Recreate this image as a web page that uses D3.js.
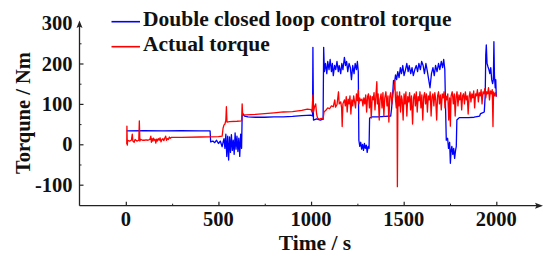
<!DOCTYPE html>
<html>
<head>
<meta charset="utf-8">
<script src="https://cdn.jsdelivr.net/npm/d3@7"></script>
<style>
html,body{margin:0;padding:0;background:#fff;}
svg{display:block;}
</style>
</head>
<body>
<svg id="chart" width="550" height="261"></svg>
<script>
// ---- data ----
const blueTime = [5,100,200,300,400,455,458,470,480,490,500,510,520,525,530,535,540,545,550,555,560,565,570,575,580,585,590,595,600,605,610,615,620,625,628,632,640,660,700,750,800,850,900,950,1000,1008,1010,1013,1030,1050,1065,1068,1072,1078,1085,1090,1097,1103,1110,1115,1120,1127,1133,1140,1147,1152,1160,1166,1172,1180,1186,1192,1198,1205,1212,1218,1225,1232,1238,1245,1250,1255,1258,1263,1268,1273,1278,1283,1288,1293,1298,1303,1308,1313,1316,1330,1360,1400,1430,1435,1440,1445,1450,1456,1462,1468,1475,1482,1488,1495,1502,1510,1517,1524,1530,1538,1545,1552,1560,1568,1575,1582,1590,1597,1605,1612,1620,1628,1635,1642,1650,1658,1665,1672,1680,1688,1695,1703,1710,1716,1722,1726,1730,1737,1742,1748,1752,1756,1760,1765,1770,1775,1780,1784,1787,1800,1850,1880,1910,1915,1925,1935,1940,1943,1946,1950,1955,1960,1965,1970,1975,1980,1984,1987,1990,1994,1997,2000];
const blueTorque = [33,34,33,34,33,33,6,8,4,10,2,8,-6,5,14,-10,25,-30,20,-39,18,-20,24,-15,10,-25,28,-12,20,-18,15,-30,25,-10,70,76,70,68,67,67,68,68,69,71,72,70,240,60,63,60,62,240,180,200,175,205,185,210,180,200,170,195,185,205,180,195,175,200,185,215,195,205,180,200,190,160,195,175,200,185,205,180,10,-5,5,-12,0,-15,2,-10,-2,-20,-5,-10,65,68,68,69,70,90,120,158,150,172,160,180,165,190,175,195,170,185,200,180,195,175,190,170,185,195,180,200,185,205,195,175,200,180,160,140,175,190,170,195,180,200,185,205,190,210,185,90,10,15,-10,5,-47,-15,-5,-25,-10,-35,-15,-5,60,66,66,67,70,76,78,80,120,221,246,200,192,185,175,190,160,150,160,254,170,140,160,118];

const redTime = [5,6,8,10,20,30,35,38,45,50,60,70,73,76,80,90,100,110,120,130,135,138,142,146,150,154,158,162,166,170,175,180,185,190,195,200,205,210,215,220,225,230,235,240,245,300,400,500,520,525,530,535,540,543,546,560,600,625,628,631,650,700,750,800,850,900,950,980,1000,1005,1010,1013,1020,1025,1030,1035,1045,1055,1065,1070,1080,1090,1100,1110,1120,1128,1132,1140,1148,1152,1160,1165,1168,1172,1180,1185,1190,1195,1200,1205,1210,1215,1220,1225,1230,1235,1240,1245,1250,1255,1258,1262,1268,1275,1280,1285,1290,1295,1300,1305,1310,1315,1320,1325,1330,1335,1340,1345,1350,1355,1358,1362,1368,1372,1378,1383,1388,1393,1398,1404,1410,1415,1420,1425,1430,1436,1442,1448,1452,1456,1460,1464,1466,1469,1474,1478,1483,1488,1492,1497,1502,1507,1512,1517,1522,1527,1532,1537,1542,1548,1553,1558,1563,1568,1573,1578,1583,1588,1593,1598,1603,1608,1613,1618,1623,1628,1633,1638,1643,1648,1653,1658,1663,1668,1673,1678,1683,1688,1693,1698,1703,1708,1713,1718,1723,1728,1733,1738,1743,1748,1752,1756,1762,1768,1773,1778,1783,1788,1793,1798,1803,1808,1813,1818,1823,1828,1833,1838,1843,1848,1853,1858,1863,1868,1873,1878,1883,1888,1893,1898,1903,1908,1913,1918,1923,1928,1933,1938,1943,1948,1953,1958,1963,1968,1973,1978,1982,1985,1990,1995,2000];
const redTorque = [0,45,-2,10,8,10,25,8,5,12,8,10,58,8,12,10,10,11,10,12,20,5,14,8,15,10,12,3,13,8,14,10,16,6,12,14,9,15,20,10,14,12,18,15,17,17,18,19,20,40,48,50,60,93,55,56,57,58,100,72,73,74,76,78,80,81,84,87,86,80,122,80,95,100,75,65,62,64,62,80,84,90,88,95,93,110,92,98,130,100,105,90,44,100,110,95,118,80,112,100,120,75,110,95,120,105,90,125,108,134,100,115,108,112,95,115,100,122,80,118,125,90,120,65,118,110,128,85,120,155,100,125,60,110,125,90,128,70,115,130,95,120,55,118,128,100,125,140,157,110,90,130,-105,120,95,130,80,120,110,60,125,100,130,70,118,105,128,85,120,50,115,125,95,130,80,118,108,130,90,122,60,118,128,100,125,80,120,110,130,70,118,125,95,128,110,60,120,130,100,122,85,125,115,130,90,120,110,125,60,115,45,120,130,100,125,70,118,130,95,122,110,128,85,120,125,100,130,110,120,75,118,130,105,125,115,132,90,125,120,135,105,128,120,135,100,130,125,138,115,130,125,140,110,132,125,135,44,130,120,128,118];

const xTicks = [0, 500, 1000, 1500, 2000];
const xMinorTicks = [250, 750, 1250, 1750];
const yTicks = [300, 200, 100, 0, -100];
const yMinorTicks = [250, 150, 50, -50];
const yTickLabels = ["300", "200", "100", "0", "-100"];
const legendLabels = ["Double closed loop control torque", "Actual torque"];
const seriesColors = ["#0000ff", "#ff0000"];

const FONT = "'Liberation Serif', 'Times New Roman', 'DejaVu Serif', serif";

// ---- layout ----
const svg = d3.select("#chart");
const x = d3.scaleLinear().domain([-250, 2245]).range([79.5, 541.7]);
const y = d3.scaleLinear().domain([-152, 300]).range([205.7, 23.1]);
const axisColor = "#222";

function label(sel) {
  return sel.attr("font-family", FONT).attr("font-weight", "bold").attr("fill", "#111");
}

// series
const line = d3.line().x(d => x(d[0])).y(d => y(d[1]));
const blue = blueTime.map((t, i) => [t, blueTorque[i]]);
const red = redTime.map((t, i) => [t, redTorque[i]]);
svg.append("path").datum(blue).attr("d", line)
  .attr("fill", "none").attr("stroke", seriesColors[0]).attr("stroke-width", 1.3).attr("stroke-linejoin", "round");
svg.append("path").datum(red).attr("d", line)
  .attr("fill", "none").attr("stroke", seriesColors[1]).attr("stroke-width", 1.3).attr("stroke-linejoin", "round");

// x axis
const xAxisY = y(-152);
const gx = svg.append("g").attr("transform", `translate(0,${xAxisY})`)
  .call(d3.axisTop(x).tickValues(xTicks).tickSize(4).tickFormat(""));
gx.select(".domain").remove();
gx.selectAll(".tick line").attr("stroke", axisColor).attr("stroke-width", 1.2);
const gxm = svg.append("g").attr("transform", `translate(0,${xAxisY})`)
  .call(d3.axisTop(x).tickValues(xMinorTicks).tickSize(2).tickFormat(""));
gxm.select(".domain").remove();
gxm.selectAll(".tick line").attr("stroke", axisColor).attr("stroke-width", 1);
svg.append("line").attr("x1", x(-250)).attr("x2", 538).attr("y1", xAxisY).attr("y2", xAxisY)
  .attr("stroke", axisColor).attr("stroke-width", 1.3);
svg.append("path").attr("d", `M543,${xAxisY} L535,${xAxisY - 3} L536.5,${xAxisY} L535,${xAxisY + 3} Z`).attr("fill", axisColor);
svg.selectAll(".xlab").data(xTicks).enter().append("text")
  .attr("x", d => x(d)).attr("y", 225.5).attr("text-anchor", "middle")
  .attr("font-size", 20.5).text(d => d).call(label);

// y axis
const yAxisX = x(-250);
const gy = svg.append("g").attr("transform", `translate(${yAxisX},0)`)
  .call(d3.axisRight(y).tickValues(yTicks.slice(1)).tickSize(4).tickFormat(""));
gy.select(".domain").remove();
gy.selectAll(".tick line").attr("stroke", axisColor).attr("stroke-width", 1.2);
const gym = svg.append("g").attr("transform", `translate(${yAxisX},0)`)
  .call(d3.axisRight(y).tickValues(yMinorTicks).tickSize(2).tickFormat(""));
gym.select(".domain").remove();
gym.selectAll(".tick line").attr("stroke", axisColor).attr("stroke-width", 1);
svg.append("line").attr("x1", yAxisX).attr("x2", yAxisX).attr("y1", xAxisY).attr("y2", 26)
  .attr("stroke", axisColor).attr("stroke-width", 1.3);
svg.append("path").attr("d", `M${yAxisX},20.5 L${yAxisX - 3},28 L${yAxisX},26.5 L${yAxisX + 3},28 Z`).attr("fill", axisColor);
svg.selectAll(".ylab").data(yTicks).enter().append("text")
  .attr("x", 72.5).attr("y", d => y(d)).attr("dy", "0.35em").attr("text-anchor", "end")
  .attr("font-size", 20.5).text((d, i) => yTickLabels[i]).call(label);

// axis titles
svg.append("text").attr("x", 315).attr("y", 250).attr("text-anchor", "middle")
  .attr("font-size", 21.5).text("Time / s").call(label);
svg.append("text").attr("transform", "translate(30,113) rotate(-90)").attr("text-anchor", "middle")
  .attr("font-size", 20.5).text("Torqune / Nm").call(label);

// legend
const legY = [21.7, 46.7];
legendLabels.forEach((lab, i) => {
  svg.append("line").attr("x1", 111.5).attr("x2", 140).attr("y1", legY[i]).attr("y2", legY[i])
    .attr("stroke", seriesColors[i]).attr("stroke-width", 1.6);
  svg.append("text").attr("x", 143).attr("y", legY[i] + 4.5).attr("font-size", 21.5).text(lab).call(label);
});
</script>
</body>
</html>
